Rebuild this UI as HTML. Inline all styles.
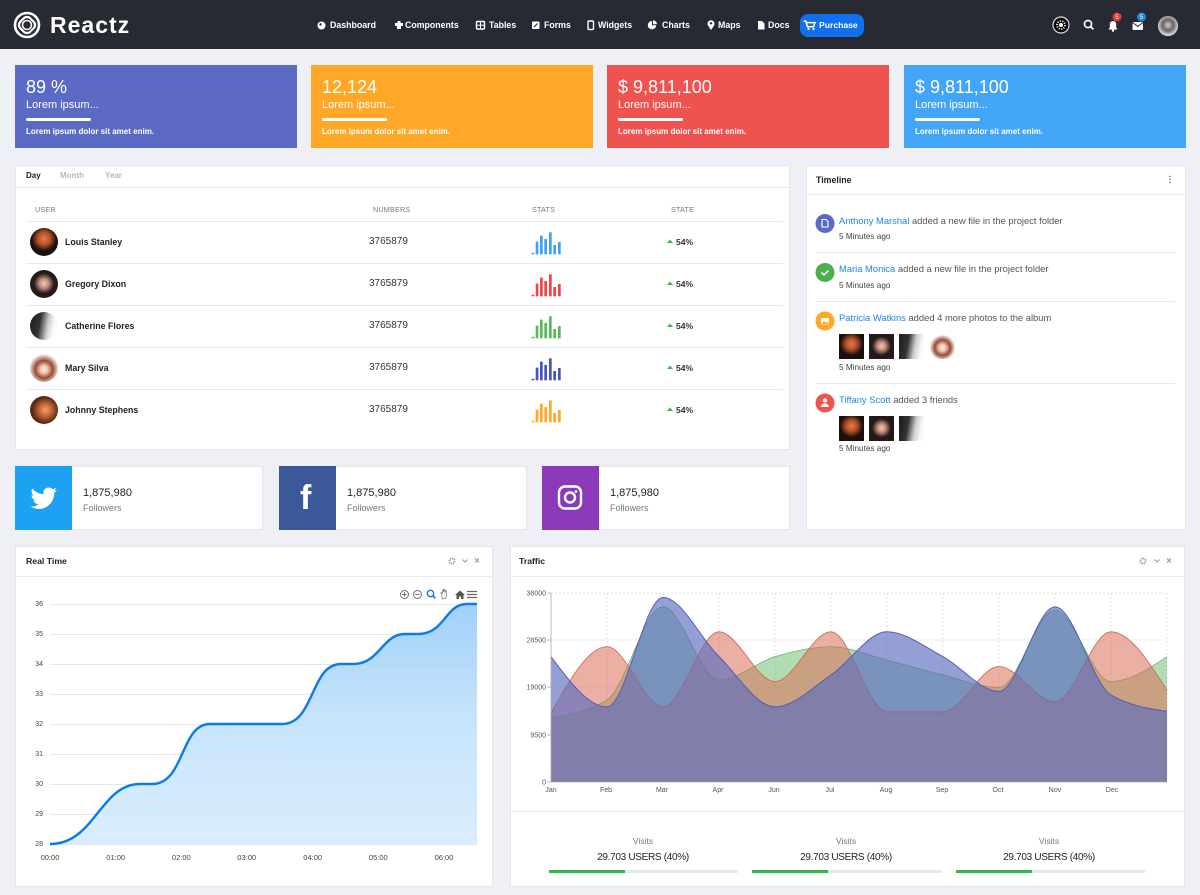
<!DOCTYPE html>
<html><head><meta charset="utf-8">
<style>
*{box-sizing:border-box;margin:0;padding:0}
body{width:1200px;height:895px;overflow:hidden;background:#eef0f5;font-family:"Liberation Sans",sans-serif;position:relative;color:#333}
.t{position:absolute;line-height:1;white-space:nowrap}
.hdr{position:absolute;left:0;top:0;width:1200px;height:49px;background:#272a33}
.nav{position:absolute;top:21px;font-size:8.8px;font-weight:bold;color:#fff;line-height:1;white-space:nowrap}
.card{position:absolute;background:#fff;border:1px solid #e2e5ec}
.stat{position:absolute;top:65px;height:83px;width:282px;color:#fff}
.stat .v{position:absolute;left:11px;top:13px;font-size:18px;line-height:1}
.stat .l{position:absolute;left:11px;top:35px;font-size:11px;line-height:1}
.stat .b{position:absolute;left:11px;top:53px;width:65px;height:3px;background:#fff;border-radius:2px}
.stat .d{position:absolute;left:11px;top:63px;font-size:8px;font-weight:bold;line-height:1;white-space:nowrap}
.th{position:absolute;top:205.5px;font-size:7.2px;color:#777;line-height:1;letter-spacing:.2px}
.nm{position:absolute;left:65px;font-size:8.8px;font-weight:bold;color:#222;line-height:1;white-space:nowrap}
.num{position:absolute;left:369px;font-size:10px;color:#333;line-height:1}
.pc{position:absolute;left:676px;font-size:8.5px;font-weight:bold;color:#333;line-height:1}
.av{position:absolute;left:30px;width:28px;height:28px;border-radius:50%}
.rl{position:absolute;left:26px;width:757px;height:1px;background:#e6e8ee}
.tl{position:absolute;left:839px;font-size:9.4px;color:#555;line-height:1;white-space:nowrap}
.tl span{color:#1e86e6}
.tm{position:absolute;left:839px;font-size:8.2px;color:#444;line-height:1;white-space:nowrap}
.img{position:absolute;width:25px;height:25px}
.soc{position:absolute;top:466px;height:64px;width:248px;background:#fff;border:1px solid #e2e5ec}
.soc .ic{position:absolute;left:-1px;top:-1px;width:57px;height:64px}
.soc .n{position:absolute;left:67px;top:20.5px;font-size:11px;color:#222;line-height:1}
.soc .f{position:absolute;left:67px;top:36.5px;font-size:9px;color:#777;line-height:1}
.ch{position:absolute;font-size:8.7px;font-weight:bold;color:#222;line-height:1}
.vis{position:absolute;top:837px;width:200px;text-align:center;font-size:8.5px;color:#777;line-height:1}
.usr{position:absolute;top:853px;width:200px;text-align:center;font-size:10px;color:#222;line-height:1;letter-spacing:-.3px}
</style></head><body>

<div class="hdr"></div>
<div class="t" style="left:50px;top:14px;font-size:23px;font-weight:bold;color:#fff;letter-spacing:1px">Reactz</div>
<div class="nav" style="left:330px">Dashboard</div>
<div class="nav" style="left:405px">Components</div>
<div class="nav" style="left:489px">Tables</div>
<div class="nav" style="left:544px">Forms</div>
<div class="nav" style="left:598px">Widgets</div>
<div class="nav" style="left:662px">Charts</div>
<div class="nav" style="left:718px">Maps</div>
<div class="nav" style="left:768px">Docs</div>
<div style="position:absolute;left:800px;top:14px;width:64px;height:23px;border-radius:8px;background:#1170ee"></div>
<div class="nav" style="left:819px;font-size:8.6px">Purchase</div>

<!-- stat cards -->
<div class="stat" style="left:15px;background:#5a6ac5"><div class="v">89 %</div><div class="l">Lorem ipsum...</div><div class="b"></div><div class="d">Lorem ipsum dolor sit amet enim.</div></div>
<div class="stat" style="left:311px;background:#ffa726"><div class="v">12,124</div><div class="l">Lorem ipsum...</div><div class="b"></div><div class="d">Lorem ipsum dolor sit amet enim.</div></div>
<div class="stat" style="left:607px;background:#ef5350"><div class="v">$ 9,811,100</div><div class="l">Lorem ipsum...</div><div class="b"></div><div class="d">Lorem ipsum dolor sit amet enim.</div></div>
<div class="stat" style="left:904px;background:#42a5f5"><div class="v">$ 9,811,100</div><div class="l">Lorem ipsum...</div><div class="b"></div><div class="d">Lorem ipsum dolor sit amet enim.</div></div>

<!-- table card -->
<div class="card" style="left:15px;top:165px;width:775px;height:285px"></div>
<div style="position:absolute;left:16px;top:187px;width:773px;height:1px;background:#ececf0"></div>
<div class="t" style="left:26px;top:172px;font-size:8px;font-weight:bold;color:#222">Day</div>
<div class="t" style="left:60px;top:172px;font-size:8px;font-weight:bold;color:#b8b8b8">Month</div>
<div class="t" style="left:105px;top:172px;font-size:8px;font-weight:bold;color:#b8b8b8">Year</div>
<div class="th" style="left:35px">USER</div>
<div class="th" style="left:373px">NUMBERS</div>
<div class="th" style="left:532px">STATS</div>
<div class="th" style="left:671px">STATE</div>
<div class="rl" style="top:220.5px;height:1.5px"></div>
<div class="rl" style="top:262.5px"></div>
<div class="rl" style="top:304.5px"></div>
<div class="rl" style="top:346.5px"></div>
<div class="rl" style="top:388.5px"></div>

<div class="av" style="top:228px;background:radial-gradient(circle at 50% 38%,#e08048 0,#b8502a 28%,#1a1010 55%)"></div>
<div class="av" style="top:270px;background:radial-gradient(circle at 50% 48%,#f0c8b8 0,#c89080 22%,#231a1a 50%)"></div>
<div class="av" style="top:312px;background:linear-gradient(100deg,#1c1c1c 0,#333 35%,#cfcfcf 62%,#fafafa 80%)"></div>
<div class="av" style="top:354px;background:radial-gradient(circle at 50% 55%,#fbe8e0 0,#f0c8b0 18%,#9a4a32 42%,#f6f0f0 72%)"></div>
<div class="av" style="top:396px;background:radial-gradient(circle at 55% 50%,#f0a070 0,#c86a3a 28%,#5a2a14 62%)"></div>

<div class="nm" style="top:237.7px">Louis Stanley</div>
<div class="nm" style="top:279.7px">Gregory Dixon</div>
<div class="nm" style="top:321.7px">Catherine Flores</div>
<div class="nm" style="top:363.7px">Mary Silva</div>
<div class="nm" style="top:405.7px">Johnny Stephens</div>
<div class="num" style="top:237px">3765879</div>
<div class="num" style="top:279px">3765879</div>
<div class="num" style="top:321px">3765879</div>
<div class="num" style="top:363px">3765879</div>
<div class="num" style="top:405px">3765879</div>
<div class="pc" style="top:238px">54%</div>
<div class="pc" style="top:280px">54%</div>
<div class="pc" style="top:322px">54%</div>
<div class="pc" style="top:364px">54%</div>
<div class="pc" style="top:406px">54%</div>

<!-- timeline -->
<div class="card" style="left:806px;top:165px;width:380px;height:365px"></div>
<div style="position:absolute;left:807px;top:194px;width:378px;height:1px;background:#ececf0"></div>
<div class="t" style="left:816px;top:175.7px;font-size:8.8px;font-weight:bold;color:#222">Timeline</div>
<div class="tl" style="top:216.1px"><span>Anthony Marshal</span> added a new file in the project folder</div>
<div class="tm" style="top:233.3px">5 Minutes ago</div>
<div style="position:absolute;left:816px;top:252px;width:359px;height:1px;background:#e6e8ee"></div>
<div class="tl" style="top:264.4px"><span>Maria Monica</span> added a new file in the project folder</div>
<div class="tm" style="top:282px">5 Minutes ago</div>
<div style="position:absolute;left:816px;top:301px;width:359px;height:1px;background:#e6e8ee"></div>
<div class="tl" style="top:313.1px"><span>Patricia Watkins</span> added 4 more photos to the album</div>
<div class="img" style="left:839px;top:334px;background:radial-gradient(circle at 50% 40%,#e08048 0,#b8502a 28%,#1a1010 58%)"></div>
<div class="img" style="left:869px;top:334px;background:radial-gradient(circle at 50% 48%,#f0c8b8 0,#c89080 22%,#231a1a 52%)"></div>
<div class="img" style="left:899px;top:334px;background:linear-gradient(100deg,#1c1c1c 0,#333 35%,#cfcfcf 62%,#fafafa 85%)"></div>
<div class="img" style="left:930px;top:334px;border-radius:45%;background:radial-gradient(circle at 50% 55%,#fbe8e0 0,#f0c8b0 18%,#9a4a32 42%,#fff 70%)"></div>
<div class="tm" style="top:364px">5 Minutes ago</div>
<div style="position:absolute;left:816px;top:382.5px;width:359px;height:1px;background:#e6e8ee"></div>
<div class="tl" style="top:394.7px"><span>Tiffany Scott</span> added 3 friends</div>
<div class="img" style="left:839px;top:416px;background:radial-gradient(circle at 50% 40%,#e08048 0,#b8502a 28%,#1a1010 58%)"></div>
<div class="img" style="left:869px;top:416px;background:radial-gradient(circle at 50% 48%,#f0c8b8 0,#c89080 22%,#231a1a 52%)"></div>
<div class="img" style="left:899px;top:416px;background:linear-gradient(100deg,#1c1c1c 0,#333 35%,#cfcfcf 62%,#fafafa 85%)"></div>
<div class="tm" style="top:445.3px">5 Minutes ago</div>

<!-- social -->
<div class="soc" style="left:15px"><div class="ic" style="background:#1da1f2"></div><div class="n">1,875,980</div><div class="f">Followers</div></div>
<div class="soc" style="left:279px"><div class="ic" style="background:#3b5998"></div><div class="n">1,875,980</div><div class="f">Followers</div></div>
<div class="soc" style="left:542px"><div class="ic" style="background:#8a3ab8"></div><div class="n">1,875,980</div><div class="f">Followers</div></div>
<div class="t" style="left:300px;top:481px;font-size:34px;font-weight:bold;color:#fff">f</div>

<!-- real time card -->
<div class="card" style="left:15px;top:546px;width:478px;height:341px"></div>
<div style="position:absolute;left:16px;top:575.5px;width:476px;height:1px;background:#ececf0"></div>
<div class="ch" style="left:26px;top:556.7px">Real Time</div>

<!-- traffic card -->
<div class="card" style="left:510px;top:546px;width:675px;height:341px"></div>
<div style="position:absolute;left:511px;top:575.5px;width:673px;height:1px;background:#ececf0"></div>
<div style="position:absolute;left:511px;top:811px;width:673px;height:1px;background:#e6e8ee"></div>
<div class="ch" style="left:519px;top:556.7px">Traffic</div>
<div class="vis" style="left:543px">Visits</div>
<div class="vis" style="left:746px">Visits</div>
<div class="vis" style="left:949px">Visits</div>
<div class="usr" style="left:543px">29.703 USERS (40%)</div>
<div class="usr" style="left:746px">29.703 USERS (40%)</div>
<div class="usr" style="left:949px">29.703 USERS (40%)</div>
<div style="position:absolute;left:549px;top:870px;width:189px;height:3px;background:#e3eaea"></div>
<div style="position:absolute;left:549px;top:870px;width:76px;height:3px;background:#2db84d"></div>
<div style="position:absolute;left:752px;top:870px;width:190px;height:3px;background:#e3eaea"></div>
<div style="position:absolute;left:752px;top:870px;width:76px;height:3px;background:#2db84d"></div>
<div style="position:absolute;left:956px;top:870px;width:189px;height:3px;background:#e3eaea"></div>
<div style="position:absolute;left:956px;top:870px;width:76px;height:3px;background:#2db84d"></div>

<svg style="position:absolute;left:0;top:0" width="1200" height="895" viewBox="0 0 1200 895" xmlns="http://www.w3.org/2000/svg">
<defs>
<linearGradient id="rtg" x1="0" y1="0" x2="0" y2="1">
<stop offset="0" stop-color="#98ccf7"/><stop offset="0.45" stop-color="#c0e1fb"/><stop offset="1" stop-color="#d7ecfd"/>
</linearGradient>
</defs>
<!-- logo -->
<circle cx="27" cy="25" r="12" fill="none" stroke="#fff" stroke-width="2.6"/>
<rect x="20" y="18" width="14" height="14" rx="4.5" fill="none" stroke="#fff" stroke-width="2.2" transform="rotate(45 27 25)"/>
<circle cx="27" cy="25" r="4.5" fill="none" stroke="#fff" stroke-width="1.6"/>
<!-- nav icons -->
<g fill="#fff">
<circle cx="321.5" cy="25.5" r="4"/><circle cx="320.5" cy="24.5" r="1.2" fill="#272a33"/>
<path d="M395,23 h2.5 v-2 h3 v2 h2.5 v3 h-2 v3 h-4 v-3 h-2z"/>
<rect x="476.5" y="21.5" width="8" height="7.5" rx="1" fill="none" stroke="#fff" stroke-width="1.4"/>
<path d="M476.5,25.2 h8 M480.5,21.5 v7.5" stroke="#fff" stroke-width="1"/>
<rect x="532" y="21.5" width="7.5" height="7.5" rx="1"/>
<path d="M534,27 l3.5,-3.5" stroke="#272a33" stroke-width="1.2"/>
<rect x="588" y="21" width="5.5" height="8.5" rx="1.2" fill="none" stroke="#fff" stroke-width="1.4"/>
<path d="M652,21 a4.2,4.2 0 1 0 4.2,4.2 h-4.2z"/><path d="M653,20.2 a4.2,4.2 0 0 1 4,4 h-4z"/>
<path d="M711,30 l-3,-4.5 a3.5,3.5 0 1 1 6,0z"/><circle cx="711" cy="23.3" r="1.2" fill="#272a33"/>
<path d="M758,21 h4 l2.5,2.5 v6 h-6.5z"/>
<path d="M803.5,21 h2.2 l1.8,5.8 h6 l1.5,-4.2 h-8.3" fill="none" stroke="#fff" stroke-width="1.5"/>
<circle cx="808.5" cy="29" r="1.1"/><circle cx="813.5" cy="29" r="1.1"/>
</g>
<!-- right header icons -->
<circle cx="1061" cy="25" r="8" fill="#0a0a0a" stroke="#ddd" stroke-width="1.2"/>
<circle cx="1061" cy="25" r="4" fill="none" stroke="#fff" stroke-width="1.8" stroke-dasharray="1.1 1.4"/>
<circle cx="1061" cy="25" r="2" fill="#fff"/>
<circle cx="1088" cy="24" r="3.6" fill="none" stroke="#fff" stroke-width="1.6"/>
<path d="M1090.6,26.6 l2.8,2.8" stroke="#fff" stroke-width="1.8"/>
<path d="M1108.5,29.5 h9 l-1.3,-2 v-3.3 a3.2,3.2 0 0 0 -6.4,0 v3.3z" fill="#fff"/>
<circle cx="1113" cy="30.6" r="1.2" fill="#fff"/>
<circle cx="1117" cy="17" r="4.5" fill="#e53935"/>
<text x="1117" y="19.2" font-size="6" fill="#fff" text-anchor="middle" font-family="Liberation Sans">5</text>
<rect x="1132.5" y="22" width="10.5" height="8" rx="1" fill="#fff"/>
<path d="M1132.5,22.5 l5.25,4 l5.25,-4" fill="none" stroke="#272a33" stroke-width="1"/>
<circle cx="1141.5" cy="17" r="4.5" fill="#1e88e5"/>
<text x="1141.5" y="19.2" font-size="6" fill="#fff" text-anchor="middle" font-family="Liberation Sans">5</text>
<defs><radialGradient id="avg" cx="0.5" cy="0.45" r="0.55"><stop offset="0" stop-color="#d9c9bf"/><stop offset="0.5" stop-color="#6b6464"/><stop offset="1" stop-color="#e8e8e8"/></radialGradient></defs>
<circle cx="1168" cy="26" r="10" fill="url(#avg)"/>

<!-- table stat bars -->
<g id="bars"></g>
<!-- state arrows -->
<g fill="#3cb54a">
<path d="M667,243 l3,-3.5 l3,3.5z"/><path d="M667,285 l3,-3.5 l3,3.5z"/><path d="M667,327 l3,-3.5 l3,3.5z"/><path d="M667,369 l3,-3.5 l3,3.5z"/><path d="M667,411 l3,-3.5 l3,3.5z"/>
</g>

<!-- timeline icons -->
<circle cx="1170" cy="176.5" r="0.9" fill="#888"/><circle cx="1170" cy="179.5" r="0.9" fill="#888"/><circle cx="1170" cy="182.5" r="0.9" fill="#888"/>
<circle cx="825" cy="223.5" r="9.5" fill="#5c6bc0"/>
<path d="M822,219.5 h4 l2,2 v5.5 h-6z" fill="none" stroke="#fff" stroke-width="1.1"/>
<circle cx="825" cy="272.5" r="9.5" fill="#4caf50"/>
<path d="M821.5,272.5 l2.5,2.5 l4.5,-4.5" fill="none" stroke="#fff" stroke-width="1.5"/>
<circle cx="825" cy="321" r="9.5" fill="#ffa726"/>
<rect x="821" y="318" width="8" height="6.5" rx="1" fill="#fff"/>
<path d="M821.5,324 l2.5,-3 l2,2 l1.5,-1.5 l1.5,2.5z" fill="#ffa726"/>
<circle cx="825" cy="403" r="9.5" fill="#ef5350"/>
<circle cx="825" cy="400.5" r="2.2" fill="#fff"/>
<path d="M821,407 a4,3.5 0 0 1 8,0z" fill="#fff"/>

<!-- social icons -->
<g transform="translate(30.5,485) scale(1.1)">
<path fill="#fff" d="M23.954 4.569c-.885.389-1.83.654-2.825.775 1.014-.611 1.794-1.574 2.163-2.723-.951.555-2.005.959-3.127 1.184-.896-.959-2.173-1.559-3.591-1.559-2.717 0-4.92 2.203-4.92 4.917 0 .39.045.765.127 1.124C7.691 8.094 4.066 6.13 1.64 3.161c-.427.722-.666 1.561-.666 2.475 0 1.71.87 3.213 2.188 4.096-.807-.026-1.566-.248-2.228-.616v.061c0 2.385 1.693 4.374 3.946 4.827-.413.111-.849.171-1.296.171-.314 0-.615-.03-.916-.086.631 1.953 2.445 3.377 4.604 3.417-1.68 1.319-3.809 2.105-6.102 2.105-.39 0-.779-.023-1.17-.067 2.189 1.394 4.768 2.209 7.557 2.209 9.054 0 13.999-7.496 13.999-13.986 0-.209 0-.42-.015-.63.961-.689 1.8-1.56 2.46-2.548l-.047-.02z"/>
</g>
<rect x="559" y="486.5" width="22" height="22" rx="6" fill="none" stroke="#fff" stroke-width="2.4"/>
<circle cx="570" cy="497.5" r="5" fill="none" stroke="#fff" stroke-width="2.4"/>
<circle cx="576" cy="491.5" r="1.3" fill="#fff"/>

<!-- card header icons -->
<g fill="#999" stroke="#999">
<circle cx="452" cy="561" r="2.6" stroke-width="1.8" stroke-dasharray="1.2 0.8" fill="none"/>
<path d="M462.5,559.5 l2.5,2.5 l2.5,-2.5" fill="none" stroke-width="1"/>
<path d="M475,558.5 l4,4 M479,558.5 l-4,4" stroke-width="1.1"/>
<circle cx="1143" cy="561" r="2.6" stroke-width="1.8" stroke-dasharray="1.2 0.8" fill="none"/>
<path d="M1154.5,559.5 l2.5,2.5 l2.5,-2.5" fill="none" stroke-width="1"/>
<path d="M1167,558.5 l4,4 M1171,558.5 l-4,4" stroke-width="1.1"/>
</g>

<!-- Real time chart -->
<g stroke="#e6e7ea" stroke-width="1">
<path d="M50,604.5 H477 M50,634.5 H477 M50,664.5 H477 M50,694.5 H477 M50,724.5 H477 M50,754.5 H477 M50,784.5 H477 M50,814.5 H477 M50,844.5 H477"/>
</g>
<path d="M50,844 C95,844 100,784 140,784 L152,784 C185,784 180,724 210,724 L282,724 C315,724 310,664 341,664 L353,664 C380,664 382,634 405,634 L418,634 C445,634 445,604 467,604 L477,604 L477,844 L50,844Z" fill="url(#rtg)" opacity="0.92"/>
<path d="M50,844 C95,844 100,784 140,784 L152,784 C185,784 180,724 210,724 L282,724 C315,724 310,664 341,664 L353,664 C380,664 382,634 405,634 L418,634 C445,634 445,604 467,604 L477,604" fill="none" stroke="#0c7ce4" stroke-width="2.4"/>
<g font-family="Liberation Sans" font-size="7" fill="#444" text-anchor="end">
<text x="43" y="606">36</text><text x="43" y="636">35</text><text x="43" y="666">34</text><text x="43" y="696">33</text><text x="43" y="726">32</text><text x="43" y="756">31</text><text x="43" y="786">30</text><text x="43" y="816">29</text><text x="43" y="846">28</text>
</g>
<g font-family="Liberation Sans" font-size="7.5" fill="#444" text-anchor="middle">
<text x="50" y="860">00:00</text><text x="115.7" y="860">01:00</text><text x="181.3" y="860">02:00</text><text x="246.7" y="860">03:00</text><text x="312.7" y="860">04:00</text><text x="378.3" y="860">05:00</text><text x="444" y="860">06:00</text>
</g>
<!-- toolbar -->
<g fill="none" stroke="#666" stroke-width="0.9">
<circle cx="404.5" cy="594.5" r="4"/><path d="M402.3,594.5 h4.4 M404.5,592.3 v4.4"/>
<circle cx="417.5" cy="594.5" r="4"/><path d="M415.3,594.5 h4.4"/>
</g>
<circle cx="430.5" cy="593.5" r="3.2" fill="none" stroke="#1a73e8" stroke-width="1.4"/>
<path d="M432.8,595.8 l2.5,2.5" stroke="#1a73e8" stroke-width="1.8"/>
<path d="M442,599 v-4 l-1,-1.5 v-1 l1.5,0.5 v-3 h1 v2 v-2.5 h1 v2.5 v-2 h1 v2.5 v-1.5 h1 v5 l-1,2.5z" fill="none" stroke="#777" stroke-width="0.7"/>
<path d="M455,595 l5,-4.5 l5,4.5 h-1.5 v4 h-2.5 v-2.5 h-2 v2.5 h-2.5 v-4z" fill="#555"/>
<path d="M467,591.5 h10 M467,594.5 h10 M467,597.5 h10" stroke="#666" stroke-width="1.2"/>

<!-- Traffic chart grid -->
<g stroke="#d9d9dd" stroke-width="0.8" stroke-dasharray="2 2" fill="none">
<path d="M551,593 H1167 M551,640 H1167 M551,687 H1167 M551,735 H1167"/>
<path d="M607,593 V782 M663,593 V782 M719,593 V782 M775,593 V782 M831,593 V782 M887,593 V782 M943,593 V782 M999,593 V782 M1055,593 V782 M1111,593 V782 M1167,593 V782"/>
</g>
<path id="gF" fill="rgba(102,187,106,0.5)" d="M551,717.3 L607,699.9 L663,606.9 L719,680 L775,656.7 L831,646.7 L887,660.1 L943,675.1 L999,687.5 L1055,610.4 L1111,681.5 L1167,656.7 L1167,782 L551,782Z"/>
<path id="gL" fill="none" stroke="#5db861" stroke-width="0.8" d="M551,717.3 L607,699.9 L663,606.9 L719,680 L775,656.7 L831,646.7 L887,660.1 L943,675.1 L999,687.5 L1055,610.4 L1111,681.5 L1167,656.7"/>
<path id="rF" fill="rgba(220,110,90,0.55)" d="M551,713.4 L607,646.7 L663,706.9 L719,631.8 L775,681.5 L831,631.8 L887,711.9 L943,711.9 L999,666.6 L1055,701.9 L1111,631.8 L1167,690 L1167,782 L551,782Z"/>
<path id="rL" fill="none" stroke="#d06a52" stroke-width="0.9" d="M551,713.4 L607,646.7 L663,706.9 L719,631.8 L775,681.5 L831,631.8 L887,711.9 L943,711.9 L999,666.6 L1055,701.9 L1111,631.8 L1167,690"/>
<path id="bF" fill="rgba(92,107,192,0.65)" d="M551,656.7 L607,706.9 L663,597.5 L719,656.7 L775,706.9 L831,675.1 L887,631.8 L943,656.7 L999,691.5 L1055,606.9 L1111,695 L1167,711.4 L1167,782 L551,782Z"/>
<path id="bL" fill="none" stroke="#4f5fb8" stroke-width="1" d="M551,656.7 L607,706.9 L663,597.5 L719,656.7 L775,706.9 L831,675.1 L887,631.8 L943,656.7 L999,691.5 L1055,606.9 L1111,695 L1167,711.4"/>
<path d="M551,593 V782 H1167" fill="none" stroke="#aaa" stroke-width="0.8"/>
<path d="M547,593 H551 M547,640 H551 M547,687 H551 M547,735 H551 M547,782 H551" stroke="#aaa" stroke-width="0.8"/>
<g font-family="Liberation Sans" font-size="7" fill="#555" text-anchor="end">
<text x="546" y="595.5">38000</text><text x="546" y="642.5">28500</text><text x="546" y="689.5">19000</text><text x="546" y="737.5">9500</text><text x="546" y="784.5">0</text>
</g>
<g font-family="Liberation Sans" font-size="7" fill="#555" text-anchor="middle">
<text x="551" y="792">Jan</text><text x="606" y="792">Feb</text><text x="662" y="792">Mar</text><text x="718" y="792">Apr</text><text x="774" y="792">Jun</text><text x="830" y="792">Jul</text><text x="886" y="792">Aug</text><text x="942" y="792">Sep</text><text x="998" y="792">Oct</text><text x="1055" y="792">Nov</text><text x="1112" y="792">Dec</text>
</g>
</svg>

<script>
(function(){
 var NS="http://www.w3.org/2000/svg";
 var bars=document.getElementById('bars');
 var cols=['#3fa0f5','#f04545','#5cb85c','#4455bb','#ffa726'];
 var xs=[531.7,535.7,540,544.3,549,553.3,558];
 var hs=[1.5,12.7,18.7,15.3,22,9.3,12.3];
 for(var r=0;r<5;r++){var base=254.3+42*r;
  for(var i=0;i<7;i++){var e=document.createElementNS(NS,'rect');
   e.setAttribute('x',xs[i]);e.setAttribute('y',base-hs[i]);e.setAttribute('width',2.7);e.setAttribute('height',hs[i]);e.setAttribute('fill',cols[r]);bars.appendChild(e);}}
 function mono(X,Y){var n=X.length,t=[],s=[],i;
  for(i=0;i<n-1;i++)s.push((Y[i+1]-Y[i])/(X[i+1]-X[i]));
  for(i=1;i<n-1;i++){var h0=X[i]-X[i-1],h1=X[i+1]-X[i],s0=s[i-1],s1=s[i],p=(s0*h1+s1*h0)/(h0+h1);
   t[i]=(Math.sign(s0)+Math.sign(s1))*Math.min(Math.abs(s0),Math.abs(s1),0.5*Math.abs(p))||0;}
  t[0]=(3*s[0]-t[1])/2;t[n-1]=(3*s[n-2]-t[n-2])/2;
  var d='M'+X[0]+','+Y[0];
  for(i=0;i<n-1;i++){var dx=(X[i+1]-X[i])/3;
   d+=' C'+(X[i]+dx)+','+(Y[i]+dx*t[i])+' '+(X[i+1]-dx)+','+(Y[i+1]-dx*t[i+1])+' '+X[i+1]+','+Y[i+1];}
  return d;}
 var X=[];for(var i=0;i<12;i++)X.push(551+56*i);
 function Yf(v){return 782-v*189/38;}
 var S={g:[13,16.5,35.2,20.5,25.2,27.2,24.5,21.5,19,34.5,20.2,25.2],
        r:[13.8,27.2,15.1,30.2,20.2,30.2,14.1,14.1,23.2,16.1,30.2,18.5],
        b:[25.2,15.1,37.1,25.2,15.1,21.5,30.2,25.2,18.2,35.2,17.5,14.2]};
 ['g','r','b'].forEach(function(k){var d=mono(X,S[k].map(Yf));
  document.getElementById(k+'L').setAttribute('d',d);
  document.getElementById(k+'F').setAttribute('d',d+' L1167,782 L551,782 Z');});
})();
</script>
</body></html>
